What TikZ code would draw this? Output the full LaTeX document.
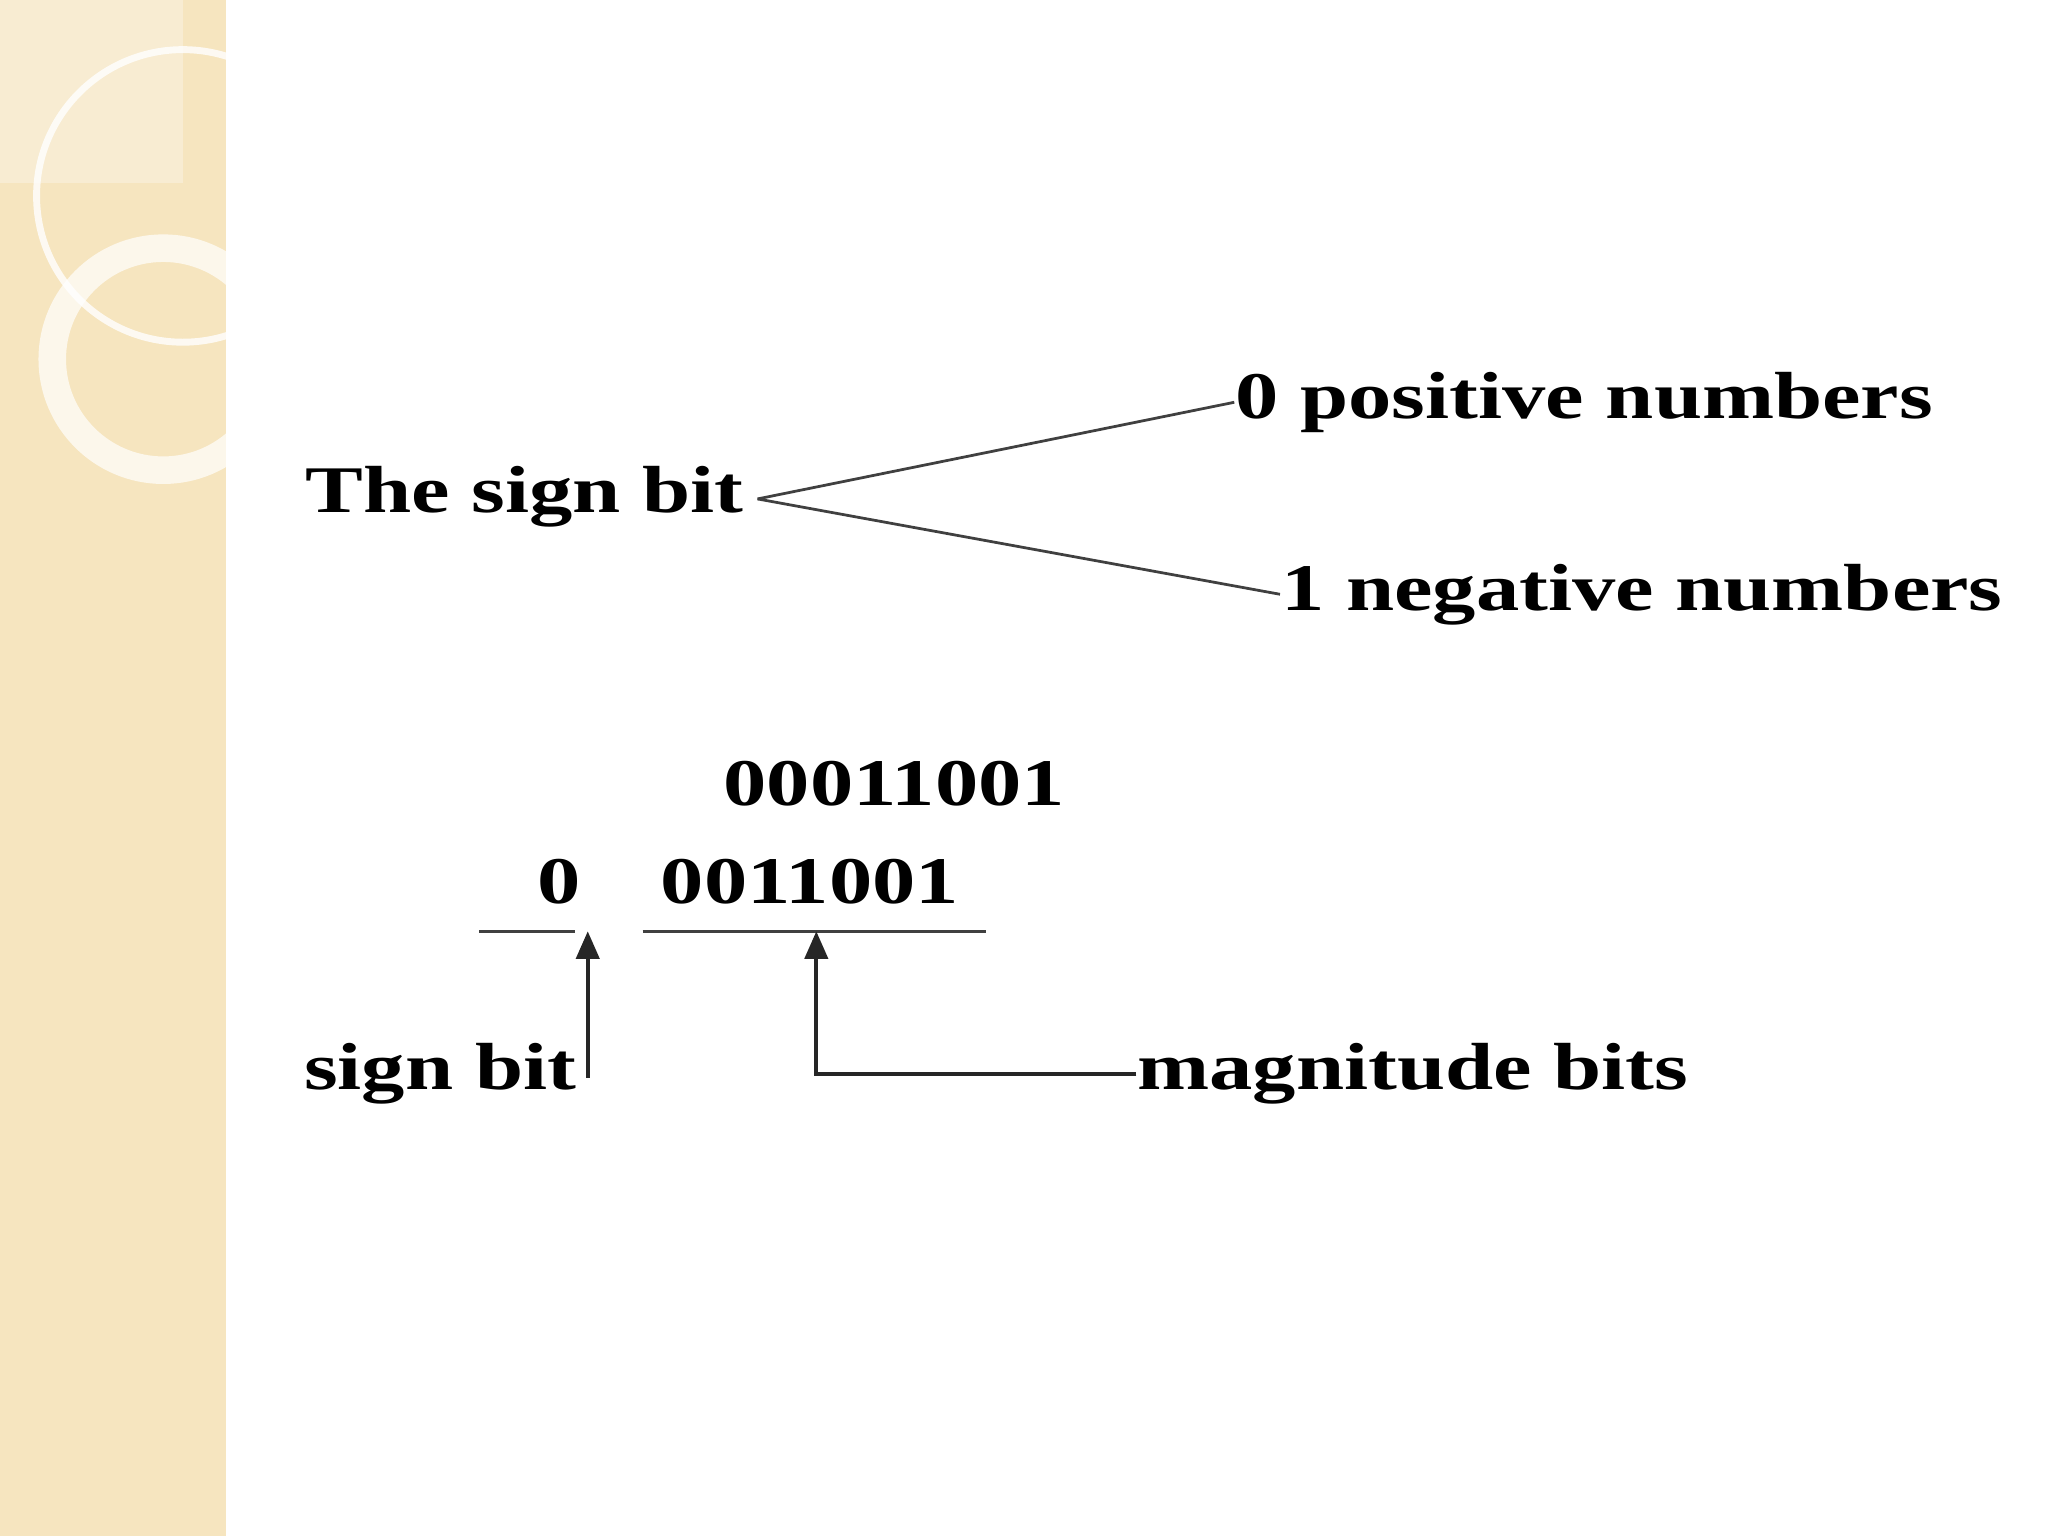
\documentclass[tikz,border=0pt]{standalone}
\usepackage{fontspec}
\setmainfont{Liberation Serif}
\usetikzlibrary{arrows.meta}
\begin{document}
\begin{tikzpicture}[x=0.01cm,y=-0.01cm,
  lbl/.style={font=\bfseries\fontsize{14.5}{18}\selectfont, inner sep=0pt, xscale=1.3},
  ln/.style={draw=black!75, line width=0.6pt},
  arr/.style={draw=black!85, line width=0.9pt, -{Triangle[length=6pt,width=5pt]}}]
\useasboundingbox (0,0) rectangle (1568,1176);
\fill[white] (0,0) rectangle (1568,1176);
\fill[fill={rgb,255:red,246;green,229;blue,191}] (0,0) rectangle (173,1176);
\fill[white,opacity=0.3] (0,0) rectangle (140,140);
\begin{scope}
\clip (0,0) rectangle (173,1176);
\draw[white,line width=1.5pt,opacity=0.8] (140,150) circle (112);
\draw[white,line width=6pt,opacity=0.7] (125,275) circle (85);
\end{scope}
\node[lbl,anchor=west] (sb) at (233,380) {The sign bit};
\node[lbl,anchor=west] (pos) at (945,308) {0 positive numbers};
\node[lbl,anchor=west] (neg) at (980,455) {1 negative numbers};
\coordinate (j) at (580,382);
\draw[ln] (j) -- (pos.west);
\draw[ln] (j) -- (neg.west);
\node[lbl,anchor=west] (full) at (553,600) {00011001};
\node[lbl] (z) at (428,675) {0};
\node[lbl,anchor=west] (mag) at (505,675) {0011001};
\coordinate (a1) at (367,713); \coordinate (a2) at (440,713);
\coordinate (b1) at (492,713); \coordinate (b2) at (755,713);
\draw[ln] (a1) -- (a2);
\draw[ln] (b1) -- (b2);
\node[lbl,anchor=west] (sgn) at (232,822) {sign bit};
\node[lbl,anchor=west] (mb) at (870,822) {magnitude bits};
\coordinate (s0) at (450,825); \coordinate (s1) at (450,713);
\draw[arr] (s0) -- (s1);
\coordinate (m1) at (625,713);
\draw[arr] (mb.west) -- (625,822) -- (m1);
\end{tikzpicture}
\end{document}
